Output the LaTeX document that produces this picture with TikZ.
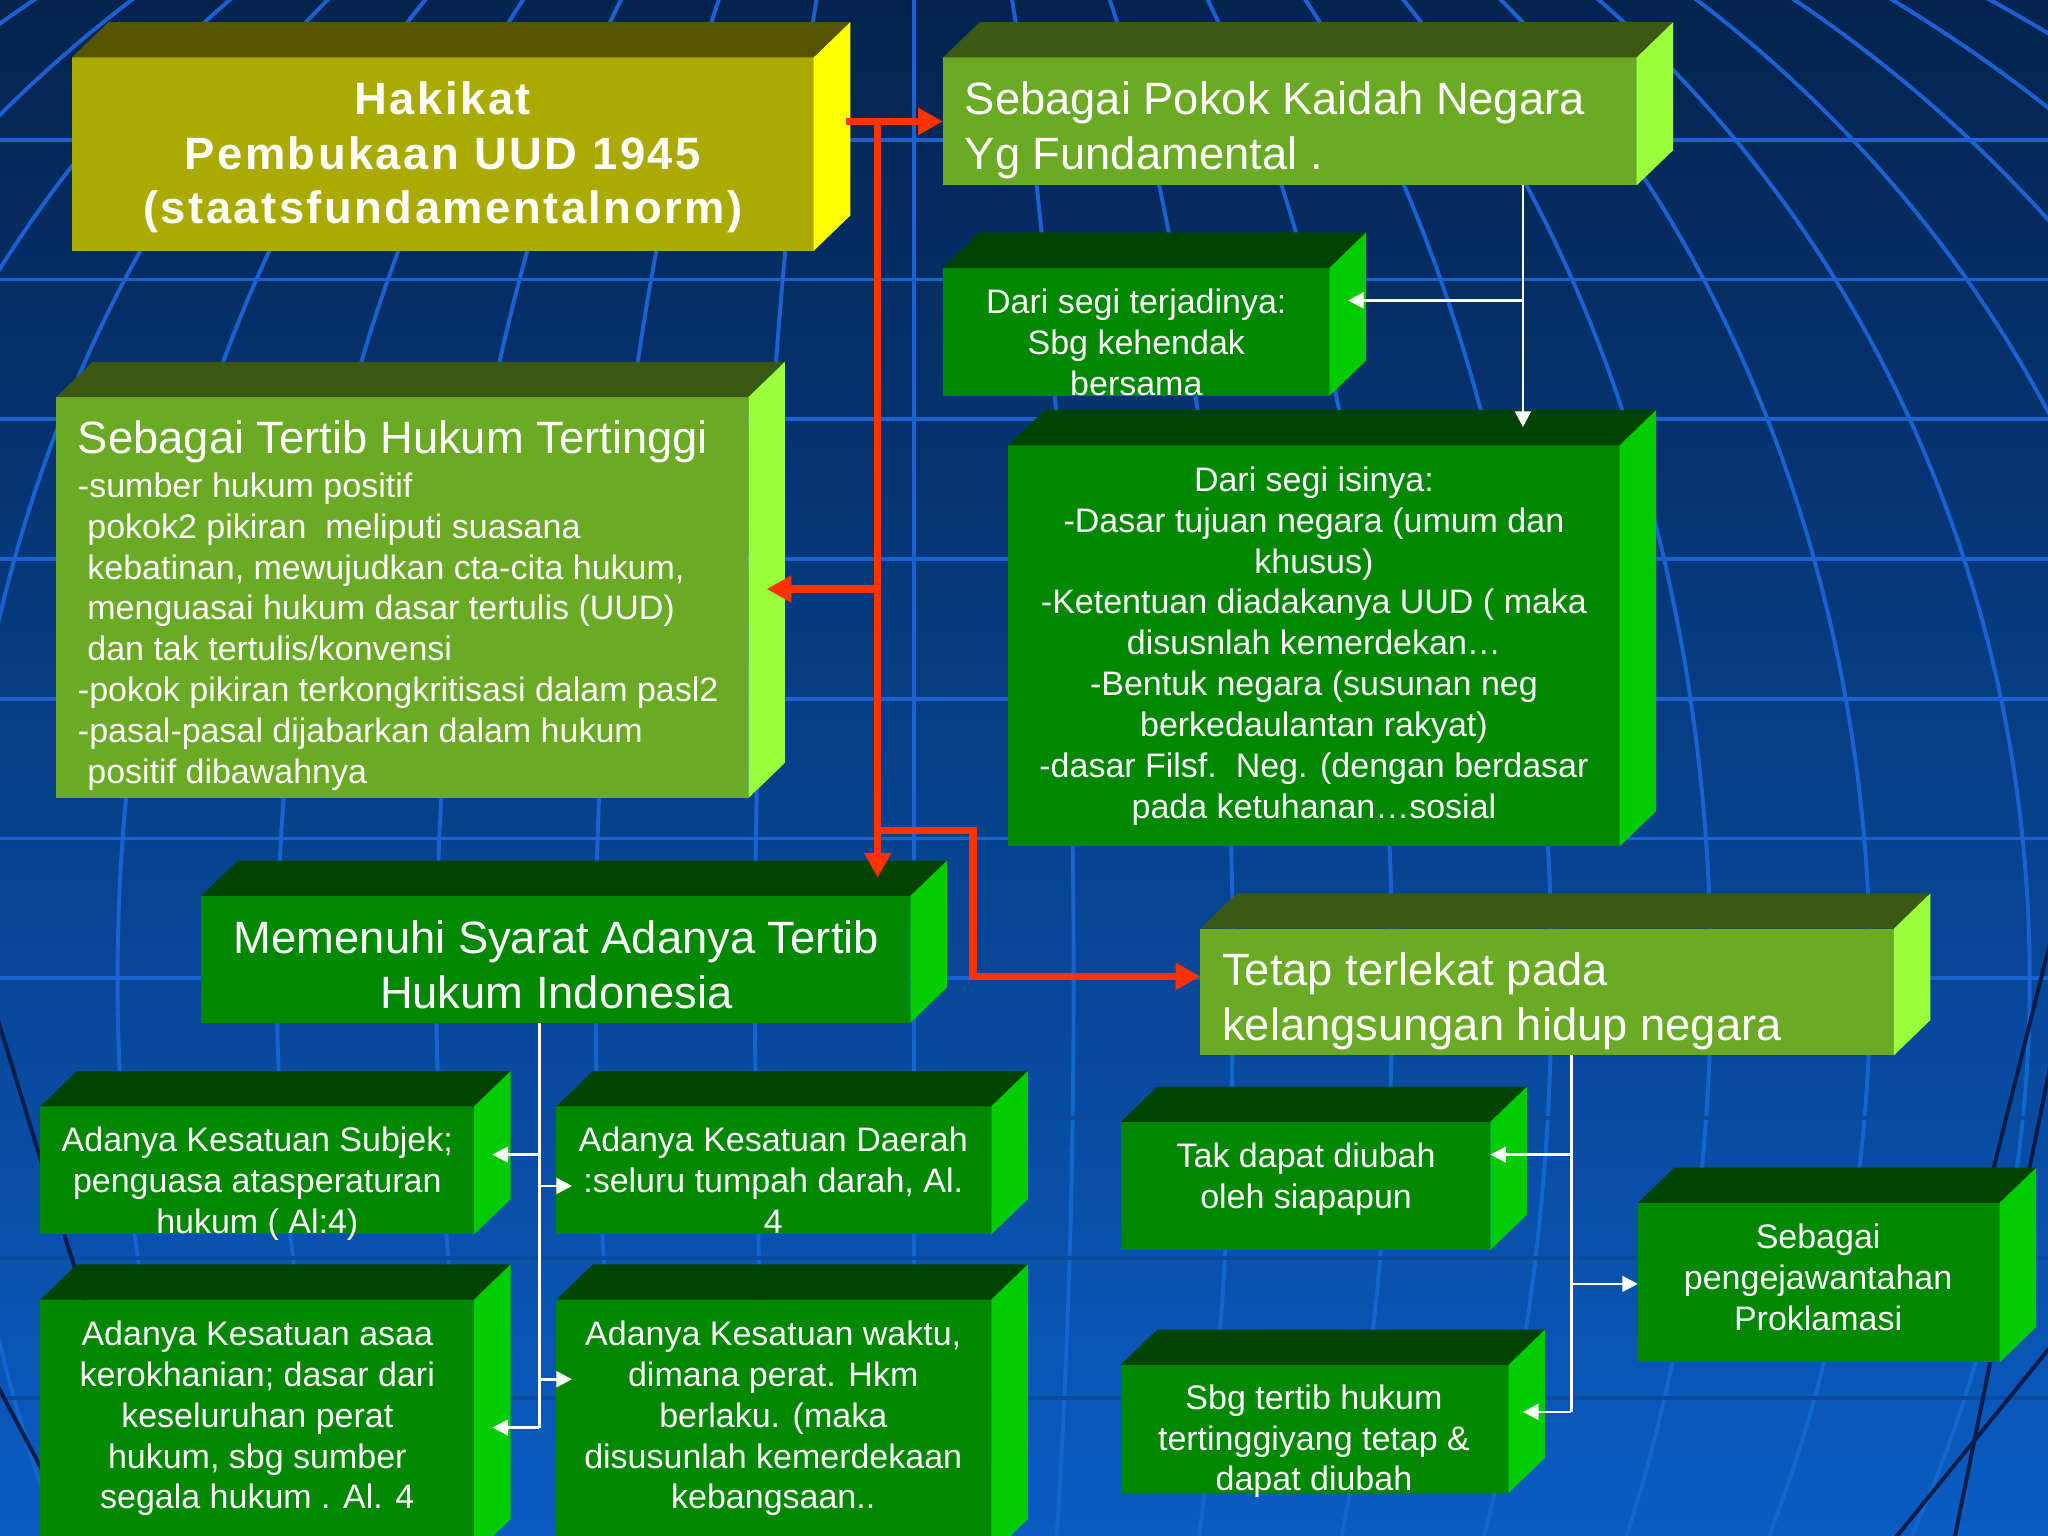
\documentclass[tikz,border=0pt]{standalone}
\usepackage{fontspec}
\setmainfont{Liberation Sans}
\usetikzlibrary{arrows.meta,calc,fit}
\definecolor{bgTop}{HTML}{04234F}
\definecolor{bgMid}{HTML}{083F85}
\definecolor{bgBot}{HTML}{0A5CC2}
\definecolor{gridC}{HTML}{1A62D2}
\definecolor{gridLow}{HTML}{0C4A9E}
\definecolor{gridFaint}{HTML}{1266CE}
\definecolor{darkC}{HTML}{0A1C48}
\definecolor{olF}{HTML}{AAAA00}
\definecolor{olT}{HTML}{555500}
\definecolor{olS}{HTML}{FFFF00}
\definecolor{ygF}{HTML}{6AAA24}
\definecolor{ygT}{HTML}{3A5A14}
\definecolor{ygS}{HTML}{9CFF3C}
\definecolor{dgF}{HTML}{008800}
\definecolor{dgT}{HTML}{004400}
\definecolor{dgS}{HTML}{00CC00}
\definecolor{redC}{HTML}{FF3300}
\newcommand\mycube[8]{%
  \node[fit={(#2,#3)(#4,#5)}, inner sep=0pt, outer sep=0pt, fill=#6] (#1) {};
  \fill[#7] (#1.north west) -- ++(28,-27) -- ($(#1.north east)+(28,-27)$) -- (#1.north east) -- cycle;
  \fill[#8] (#1.north east) -- ++(28,-27) -- ($(#1.south east)+(28,-27)$) -- (#1.south east) -- cycle;
}
\begin{document}
\begin{tikzpicture}[x=0.01cm,y=-0.01cm,
  gridline/.style={draw=gridC, line width=0.85pt},
  darkline/.style={draw=darkC, line width=0.85pt},
  bigtxt/.style={text=white, inner sep=0pt, font=\fontsize{9.87pt}{11.95pt}\selectfont},
  hakfont/.style={text=white, inner sep=0pt, font=\fontsize{9.87pt}{11.95pt}\selectfont\bfseries\addfontfeatures{LetterSpace=5.5}},
  smalltxt/.style={text=white, inner sep=0pt, font=\fontsize{7.4pt}{8.89pt}\selectfont},
  redline/.style={draw=redC, line width=1.6pt},
  redarr/.style={redline, -{Triangle[length=5.4pt,width=5.6pt]}},
  wline/.style={draw=white, line width=0.6pt},
  whitearr/.style={wline, -{Triangle[length=3.4pt,width=3.4pt]}}]
\clip (0,0) rectangle (1568,1176);
\shade[top color=bgTop, middle color=bgMid, bottom color=bgBot] (0,0) rectangle (1568,1176);
% globe grid
\begin{scope}
  \clip (0,0) rectangle (1568,800);
  \draw[gridline] (700,0) -- (700,1176);
  \foreach \k in {1,...,12}
    \draw[gridline] (700,750) ellipse [x radius={122*\k}, y radius=950];
\end{scope}
\begin{scope}
  \clip (0,800) rectangle (1568,1176);
  \draw[gridline, draw=gridFaint] (700,0) -- (700,1176);
  \foreach \k in {1,...,12}
    \draw[gridline, draw=gridFaint] (700,750) ellipse [x radius={122*\k}, y radius=950];
\end{scope}
\foreach \yy in {107,214,321,428,535,642,749}
  \draw[gridline] (0,\yy) -- (1568,\yy);
\foreach \yy in {856,963,1070}
  \draw[gridline, draw=gridLow] (0,\yy) -- (1568,\yy);
\draw[darkline] (-5,770) .. controls (20,850) and (40,920) .. (80,1040);
\draw[darkline] (-5,1055) -- (40,1140);
\draw[darkline] (1575,700) -- (1515,940);
\draw[darkline] (1575,790) -- (1495,1185);
\draw[darkline] (1575,1025) -- (1445,1185);

% boxes
\mycube{hak}{55}{44}{623}{192}{olF}{olT}{olS}
\mycube{pok}{722}{44}{1253}{142}{ygF}{ygT}{ygS}
\mycube{ter}{722}{205}{1018}{303}{dgF}{dgT}{dgS}
\mycube{isi}{772}{341}{1240}{648}{dgF}{dgT}{dgS}
\mycube{tht}{43}{304}{573}{611}{ygF}{ygT}{ygS}
\mycube{mem}{154}{686}{697}{783}{dgF}{dgT}{dgS}
\mycube{tet}{919}{711}{1450}{808}{ygF}{ygT}{ygS}
\mycube{sub}{31}{847}{363}{945}{dgF}{dgT}{dgS}
\mycube{dae}{426}{847}{759}{945}{dgF}{dgT}{dgS}
\mycube{asa}{31}{995}{363}{1190}{dgF}{dgT}{dgS}
\mycube{wak}{426}{995}{759}{1190}{dgF}{dgT}{dgS}
\mycube{tak}{858}{859}{1141}{957}{dgF}{dgT}{dgS}
\mycube{pen}{1254}{921}{1531}{1043}{dgF}{dgT}{dgS}
\mycube{sbg}{858}{1045}{1155}{1143}{dgF}{dgT}{dgS}

% texts
\node[hakfont, align=center] (hakT) at (339,121) {\strut Hakikat\\\strut Pembukaan UUD 1945\\\strut (staatsfundamentalnorm)};
\node[bigtxt, align=left, anchor=west] (pokT) at (738,100) {\strut Sebagai Pokok Kaidah Negara\\\strut Yg Fundamental .};
\node[smalltxt, align=center] (terT) at (870,265) {\strut Dari segi terjadinya:\\\strut Sbg kehendak\\\strut bersama};
\node[smalltxt, align=center] (isiT) at (1006,495) {\strut Dari segi isinya:\\\strut -Dasar tujuan negara (umum dan\\\strut khusus)\\\strut -Ketentuan diadakanya UUD ( maka\\\strut disusnlah kemerdekan…\\\strut -Bentuk negara (susunan neg\\\strut berkedaulantan rakyat)\\\strut -dasar Filsf.\ \ Neg. (dengan berdasar\\\strut pada ketuhanan…sosial};
\node[bigtxt, align=left, anchor=west] (thtH) at (59,339) {\strut Sebagai Tertib Hukum Tertinggi};
\node[smalltxt, align=left, anchor=west] (thtT) at (59,484) {\strut -sumber hukum positif\\\strut\hspace*{0.278em}pokok2 pikiran\ \ meliputi suasana\\\strut\hspace*{0.278em}kebatinan, mewujudkan cta-cita hukum,\\\strut\hspace*{0.278em}menguasai hukum dasar tertulis (UUD)\\\strut\hspace*{0.278em}dan tak tertulis/konvensi\\\strut -pokok pikiran terkongkritisasi dalam pasl2\\\strut -pasal-pasal dijabarkan dalam hukum\\\strut\hspace*{0.278em}positif dibawahnya};
\node[bigtxt, align=center] (memT) at (426,742.5) {\strut Memenuhi Syarat Adanya Tertib\\\strut Hukum Indonesia};
\node[bigtxt, align=left, anchor=west] (tetT) at (935,767.5) {\strut Tetap terlekat pada\\\strut kelangsungan hidup negara};
\node[smalltxt, align=center] (subT) at (197,907) {\strut Adanya Kesatuan Subjek;\\\strut penguasa atasperaturan\\\strut hukum ( Al:4)};
\node[smalltxt, align=center] (daeT) at (592,907) {\strut Adanya Kesatuan Daerah\\\strut :seluru tumpah darah, Al.\\\strut 4};
\node[smalltxt, align=center] (asaT) at (197,1086.5) {\strut Adanya Kesatuan asaa\\\strut kerokhanian; dasar dari\\\strut keseluruhan perat\\\strut hukum, sbg sumber\\\strut segala hukum . Al. 4};
\node[smalltxt, align=center] (wakT) at (592,1086.5) {\strut Adanya Kesatuan waktu,\\\strut dimana perat. Hkm\\\strut berlaku. (maka\\\strut disusunlah kemerdekaan\\\strut kebangsaan..};
\node[smalltxt, align=center] (takT) at (1000,903.5) {\strut Tak dapat diubah\\\strut oleh siapapun};
\node[smalltxt, align=center] (penT) at (1392,981) {\strut Sebagai\\\strut pengejawantahan\\\strut Proklamasi};
\node[smalltxt, align=center] (sbgT) at (1006,1104) {\strut Sbg tertib hukum\\\strut tertinggiyang tetap \&\\\strut dapat diubah};

% red connectors
\coordinate (hakOut) at ($(hak.north east)+(25,0)$);
\coordinate (rTop) at (672,93);
\coordinate (memTop) at ($(mem.north)+(14,-14)$);
\coordinate (thtSide) at ($(tht.east)+(14,0)$);
\coordinate (rL) at (672,451);
\coordinate (rR) at (672,636);
\coordinate (rRb) at (745,636);
\coordinate (tetIn) at ($(tet.west)+(0,-12)$);
\draw[redarr] (hakOut |- pok.west) -- (pok.west);
\draw[redarr] (rTop) -- (rTop |- memTop);
\draw[redarr] (rL) -- (rL -| thtSide);
\draw[redarr] (rR) -- (rRb) -- (rRb |- tetIn) -- (tetIn);

% white connectors: Pokok
\coordinate (w1top) at ($(pok.south west)+(444,0)$);
\coordinate (isiTop) at ($(isi.north)+(14,-14)$);
\coordinate (terSide) at ($(ter.east)+(14,0)$);
\coordinate (w1b) at (1166,230);
\draw[whitearr] (w1top) -- (w1top |- isiTop);
\draw[whitearr] (w1b) -- (w1b -| terSide);

% white connectors: Memenuhi
\coordinate (w2top) at ($(mem.south west)+(259,0)$);
\coordinate (w2a) at (413,884);
\coordinate (w2b) at (413,908);
\coordinate (w2c) at (413,1056);
\coordinate (w2bot) at (413,1093);
\coordinate (subSide) at ($(sub.east)+(14,0)$);
\coordinate (asaSide) at ($(asa.east)+(14,0)$);
\coordinate (daeIn) at ($(dae.west)+(12,0)$);
\coordinate (wakIn) at ($(wak.west)+(12,0)$);
\draw[wline] (w2top) -- (w2bot);
\draw[whitearr] (w2a) -- (w2a -| subSide);
\draw[whitearr] (w2b) -- (w2b -| daeIn);
\draw[whitearr] (w2c) -- (w2c -| wakIn);
\draw[whitearr] (w2bot) -- (w2bot -| asaSide);

% white connectors: Tetap
\coordinate (w3top) at ($(tet.south west)+(284,0)$);
\coordinate (w3a) at (1203,884);
\coordinate (w3b) at (1203,983);
\coordinate (w3bot) at (1203,1081);
\coordinate (sbgSide) at ($(sbg.east)+(11,0)$);
\draw[wline] (w3top) -- (w3bot);
\draw[whitearr] (w3a) -- (w3a -| tak.east);
\draw[whitearr] (w3b) -- (w3b -| pen.west);
\draw[whitearr] (w3bot) -- (w3bot -| sbgSide);
\end{tikzpicture}
\end{document}
